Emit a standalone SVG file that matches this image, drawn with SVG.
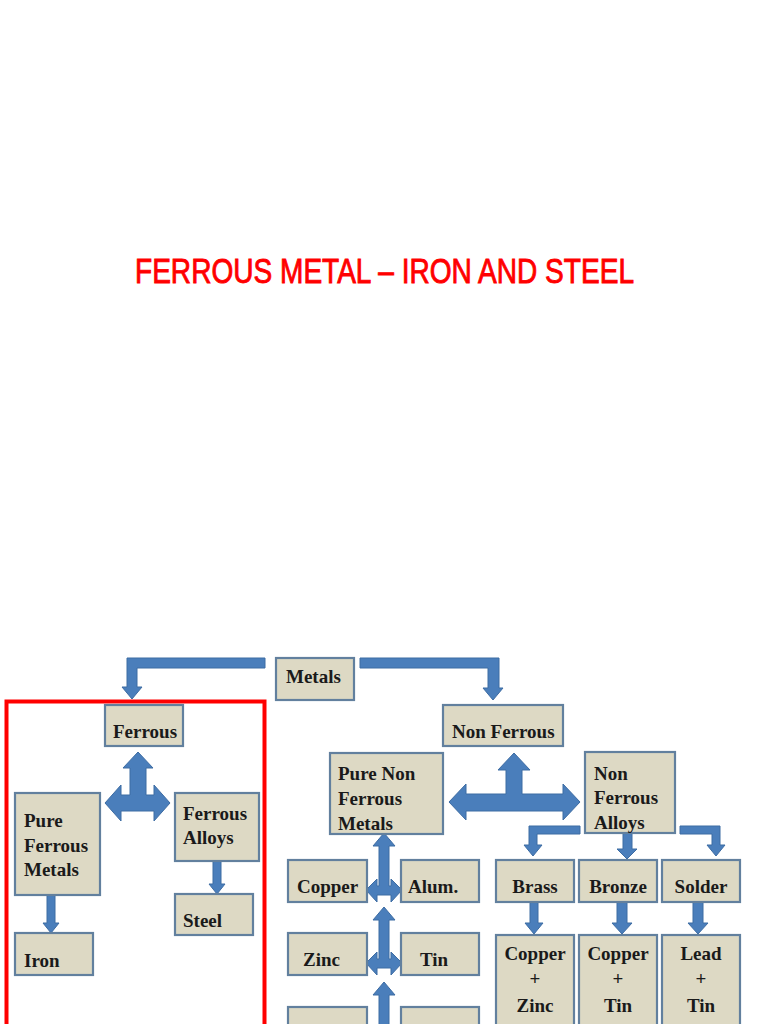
<svg xmlns="http://www.w3.org/2000/svg" width="768" height="1024" viewBox="0 0 768 1024">
<style>
.box{fill:#ddd9c4;stroke:#62809e;stroke-width:2.2}
.t{font-family:"Liberation Serif","Times New Roman",serif;font-weight:bold;font-size:19px;fill:#1a1a1a}
.c{text-anchor:middle}
.arr{fill:#4a7ebb;stroke:#3d6ca3;stroke-width:1;stroke-linejoin:miter}
</style>
<rect width="768" height="1024" fill="#ffffff"/>
<text x="135" y="283" font-family="Liberation Sans, Arial, sans-serif" font-size="35" fill="#ff0000" stroke="#ff0000" stroke-width="0.9" textLength="499" lengthAdjust="spacingAndGlyphs">FERROUS METAL – IRON AND STEEL</text>
<path d="M6.5,1030 V701.5 H264.5 V1030" fill="none" stroke="#ff0000" stroke-width="4"/>
<g id="connectors">
<path class="arr" d="M265,658 L127,658 L127,687 L122,687 L132,699 L142,687 L137,687 L137,668 L265,668 Z"/>
<path class="arr" d="M360,658 L499,658 L499,688 L503,688 L493,700 L483,688 L488,688 L488,668 L360,668 Z"/>
<path class="arr" d="M138,752 L153,768 L146,768 L146,795 L154,795 L154,785 L170,803 L154,821 L154,811 L121,811 L121,821 L105,803 L121,785 L121,795 L130,795 L130,768 L123,768 Z"/>
<path class="arr" d="M514,753 L530,770 L522,770 L522,794 L563,794 L563,784 L580,802 L563,820 L563,811 L466,811 L466,820 L449,802 L466,784 L466,794 L506,794 L506,770 L498,770 Z"/>
<path class="arr" d="M47,895 L55,895 L55,923 L59,923 L51,933 L43,923 L47,923 Z"/>
<path class="arr" d="M213,861 L221,861 L221,884 L225,884 L217,894 L209,884 L213,884 Z"/>
<path class="arr" d="M384,833 L395,846 L389,846 L389,886 L391,886 L391,879 L402,890 L391,902 L391,895 L377,895 L377,902 L366,890 L377,879 L377,886 L379,886 L379,846 L373,846 Z"/>
<path class="arr" d="M384,907 L395,920 L389,920 L389,959 L391,959 L391,952 L402,963 L391,975 L391,968 L377,968 L377,975 L366,963 L377,952 L377,959 L379,959 L379,920 L373,920 Z"/>
<path class="arr" d="M384,982 L395,995 L389,995 L389,1030 L379,1030 L379,995 L373,995 Z"/>
<path class="arr" d="M580,826 L529,826 L529,845 L524,845 L533,856 L542,845 L537,845 L537,834 L580,834 Z"/>
<path class="arr" d="M623,833 L632,833 L632,849 L637,849 L627,859 L617,849 L623,849 Z"/>
<path class="arr" d="M680,826 L720,826 L720,845 L725,845 L716,856 L707,845 L712,845 L712,834 L680,834 Z"/>
<path class="arr" d="M530,902 L538,902 L538,923 L543,923 L534,934 L525,923 L530,923 Z"/>
<path class="arr" d="M617,902 L627,902 L627,923 L632,923 L622,934 L612,923 L617,923 Z"/>
<path class="arr" d="M693,902 L703,902 L703,923 L708,923 L698,934 L688,923 L693,923 Z"/>
</g>
<g id="metals"><rect class="box" x="276" y="658" width="78" height="42"/><text class="t" x="286" y="683">Metals</text></g>
<g id="ferrous"><rect class="box" x="105" y="705" width="78" height="41"/><text class="t" x="113" y="738">Ferrous</text></g>
<g id="non-ferrous"><rect class="box" x="443" y="705" width="120" height="41"/><text class="t" x="452" y="738">Non Ferrous</text></g>
<g id="pure-ferrous"><rect class="box" x="15" y="793" width="85" height="102"/><text class="t" x="24" y="827">Pure</text><text class="t" x="24" y="852">Ferrous</text><text class="t" x="24" y="876">Metals</text></g>
<g id="ferrous-alloys"><rect class="box" x="175" y="793" width="84" height="68"/><text class="t" x="183" y="820">Ferrous</text><text class="t" x="183" y="844">Alloys</text></g>
<g id="iron"><rect class="box" x="15" y="933" width="78" height="42"/><text class="t" x="24" y="967">Iron</text></g>
<g id="steel"><rect class="box" x="175" y="894" width="78" height="41"/><text class="t" x="183" y="927">Steel</text></g>
<g id="pure-non-ferrous"><rect class="box" x="330" y="753" width="113" height="81"/><text class="t" x="338" y="780">Pure Non</text><text class="t" x="338" y="805">Ferrous</text><text class="t" x="338" y="830">Metals</text></g>
<g id="non-ferrous-alloys"><rect class="box" x="585" y="752" width="90" height="81"/><text class="t" x="594" y="780">Non</text><text class="t" x="594" y="804">Ferrous</text><text class="t" x="594" y="829">Alloys</text></g>
<g id="copper"><rect class="box" x="288" y="860" width="79" height="42"/><text class="t" x="297" y="893">Copper</text></g>
<g id="alum"><rect class="box" x="401" y="860" width="78" height="42"/><text class="t" x="408" y="893">Alum.</text></g>
<g id="zinc"><rect class="box" x="288" y="933" width="79" height="42"/><text class="t" x="303" y="966">Zinc</text></g>
<g id="tin"><rect class="box" x="401" y="933" width="78" height="42"/><text class="t" x="420" y="966">Tin</text></g>
<g id="row4-left"><rect class="box" x="288" y="1007" width="79" height="42"/></g>
<g id="row4-right"><rect class="box" x="401" y="1007" width="78" height="42"/></g>
<g id="brass"><rect class="box" x="496" y="860" width="78" height="42"/><text class="t c" x="535" y="893">Brass</text></g>
<g id="bronze"><rect class="box" x="579" y="860" width="78" height="42"/><text class="t c" x="618" y="893">Bronze</text></g>
<g id="solder"><rect class="box" x="662" y="860" width="78" height="42"/><text class="t c" x="701" y="893">Solder</text></g>
<g id="copper-zinc"><rect class="box" x="496" y="935" width="78" height="95"/><text class="t c" x="535" y="960">Copper</text><text class="t c" x="535" y="985">+</text><text class="t c" x="535" y="1012">Zinc</text></g>
<g id="copper-tin"><rect class="box" x="579" y="935" width="78" height="95"/><text class="t c" x="618" y="960">Copper</text><text class="t c" x="618" y="985">+</text><text class="t c" x="618" y="1012">Tin</text></g>
<g id="lead-tin"><rect class="box" x="662" y="935" width="78" height="95"/><text class="t c" x="701" y="960">Lead</text><text class="t c" x="701" y="985">+</text><text class="t c" x="701" y="1012">Tin</text></g>
</svg>
